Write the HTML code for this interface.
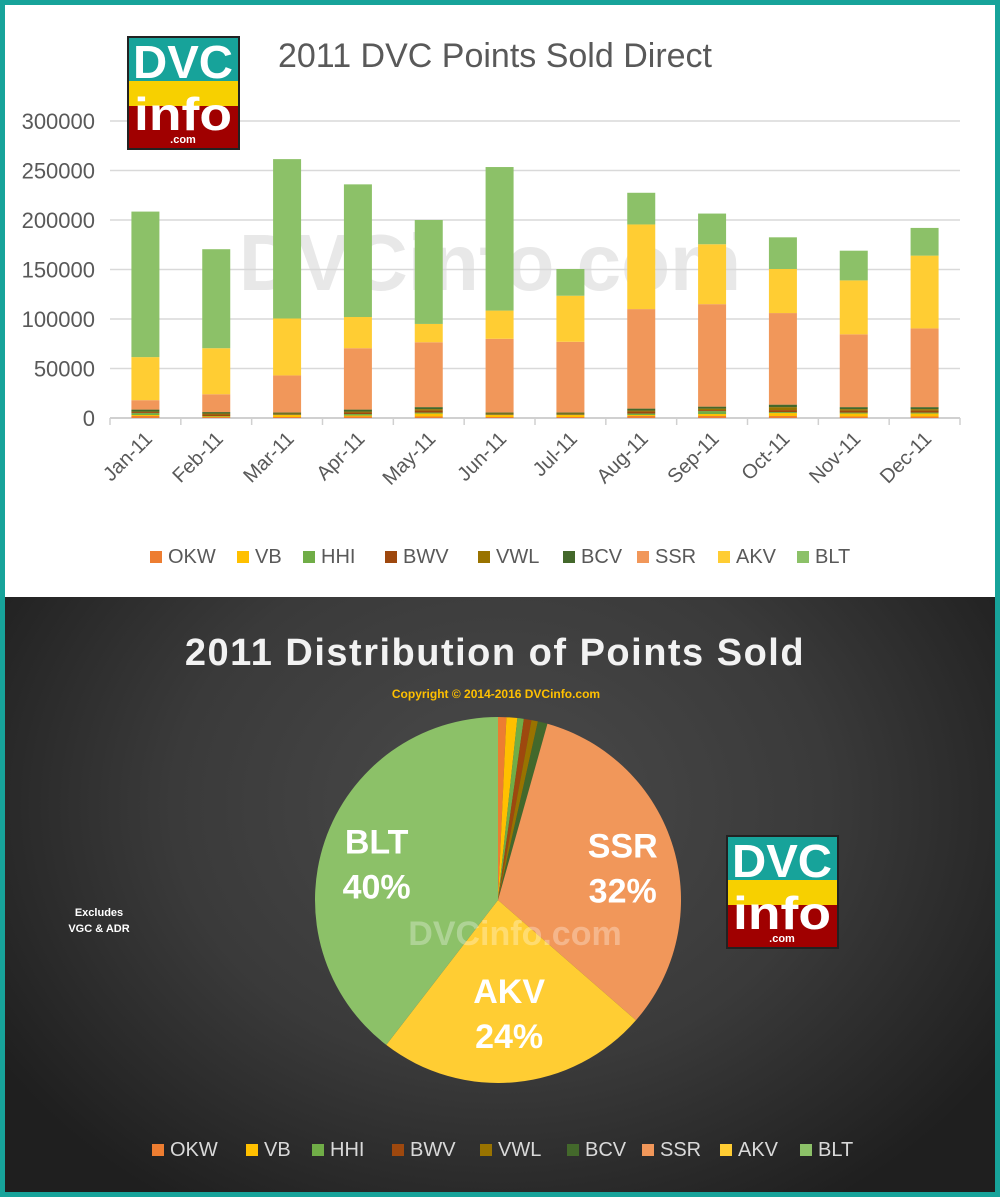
<!DOCTYPE html>
<html><head><meta charset="utf-8"><style>
html,body{margin:0;padding:0}
body{width:1000px;height:1197px;background:#17a39a;position:relative;overflow:hidden;font-family:"Liberation Sans",sans-serif}
#top{position:absolute;left:5px;top:5px;width:990px;height:592px;background:#fff}
#bot{position:absolute;left:5px;top:597px;width:990px;height:595px;background:radial-gradient(ellipse 60% 80% at 50% 35%,#4a4a4a 0%,#3a3a3a 55%,#1f1f1f 100%)}
svg text{font-family:"Liberation Sans",sans-serif}
</style></head><body>
<div id="top"></div>
<div id="bot"></div>
<svg id="chart" width="1000" height="1197" style="position:absolute;left:0;top:0">
<defs>
<g id="logo">
<rect x="0" y="0" width="113" height="114" fill="#222"/>
<rect x="2" y="2" width="109" height="43" fill="#17a39a"/>
<rect x="2" y="45" width="109" height="25" fill="#f7d000"/>
<rect x="2" y="70" width="109" height="42" fill="#a00000"/>
<text x="56" y="42" font-size="46" fill="#fff" text-anchor="middle" font-weight="bold" textLength="100" lengthAdjust="spacingAndGlyphs">DVC</text>
<text x="56" y="94" font-size="46" fill="#fff" text-anchor="middle" font-weight="bold" textLength="98" lengthAdjust="spacingAndGlyphs">info</text>
<text x="56" y="107" font-size="11" fill="#fff" text-anchor="middle" font-weight="bold">.com</text>
</g>
</defs>
<g id="bars"></g>
<g id="pie"></g>
</svg>
<script>
const months=["Jan-11","Feb-11","Mar-11","Apr-11","May-11","Jun-11","Jul-11","Aug-11","Sep-11","Oct-11","Nov-11","Dec-11"];
const seriesNames=["OKW","VB","HHI","BWV","VWL","BCV","SSR","AKV","BLT"];
const seriesColors=["#ED7D31","#FFC000","#70AD47","#9E480E","#997300","#43682B","#F1975A","#FFCD33","#8CC168"];
const okw=[2000,1000,1000,1500,1500,1000,1000,2000,2000,2000,1500,1500];
const vb=[1000,500,2000,1000,3000,2000,2000,1000,2000,3000,3000,3000];
const hhi=[2000,500,500,1500,1000,500,500,1500,3000,1000,1000,1000];
const bwv=[1000,1500,500,1500,2000,500,500,2000,1000,2000,2000,2000];
const vwl=[500,1000,500,1000,1500,500,500,1000,1500,3000,1500,1500];
const bcv=[2000,1500,1000,2000,2000,1000,1000,2000,2000,2500,2000,2000];
const ssr=[9500,18000,37500,62000,65500,74500,71500,100500,103500,92500,73500,79500];
const akv=[43500,46500,57500,31500,18500,28500,46500,85500,60500,44500,54500,73500];
const blt=[147000,100000,161000,134000,105000,145000,27000,32000,31000,32000,30000,28000];
const yTicks=[0,50000,100000,150000,200000,250000,300000];
const series=[okw,vb,hhi,bwv,vwl,bcv,ssr,akv,blt];
const NS="http://www.w3.org/2000/svg";
function mk(tag,attrs,parent,txt){const e=document.createElementNS(NS,tag);for(const k in attrs)e.setAttribute(k,attrs[k]);if(txt!==undefined)e.textContent=txt;parent.appendChild(e);return e;}
const X0=110,X1=960,Y0=418,Y1=121,YMAX=300000;
const y=v=>Y0-(v/YMAX)*(Y0-Y1);
const bw=(X1-X0)/months.length;
const xc=i=>X0+bw*(i+0.5);
const g=document.getElementById('bars');
let t=mk('text',{x:495,y:67,'font-size':34,fill:'#595959','text-anchor':'middle'},g,'2011 DVC Points  Sold  Direct');

t=mk('text',{x:490,y:290,'font-size':80,fill:'#e8e8e8','text-anchor':'middle','font-weight':'bold'},g,'DVCinfo.com');

yTicks.forEach(v=>{
  const l=mk('line',{x1:X0,x2:X1,y1:y(v),y2:y(v),stroke:v===0?'#d0d0d0':'#d9d9d9','stroke-width':v===0?2:1.5},g);
  
  const tt=mk('text',{x:95,y:y(v)+8,'font-size':22,fill:'#595959','text-anchor':'end'},g,String(v));
  
});
for(let i=0;i<=months.length;i++){
  const l=mk('line',{x1:X0+bw*i,x2:X0+bw*i,y1:Y0,y2:Y0+7,stroke:'#d0d0d0','stroke-width':1.5},g);
  
}
months.forEach((m,i)=>{
  let cum=0;
  series.forEach((s,k)=>{
    const v=s[i];
    const r=mk('rect',{x:xc(i)-14,y:y(cum+v),width:28,height:y(cum)-y(cum+v),fill:seriesColors[k]},g);
    
    
    cum+=v;
  });
  const tx=xc(i)+8,ty=Y0+22;
  const lab=mk('text',{x:tx,y:ty,'font-size':20,fill:'#595959','text-anchor':'end',transform:`rotate(-45 ${tx} ${ty})`},g,m);
  
});
function legend(parent,yy,col,pos){
  seriesNames.forEach((n,k)=>{
    const x=pos[k];
    const r=mk('rect',{x:x,y:yy-12,width:12,height:12,fill:seriesColors[k]},parent);
    
    const tt=mk('text',{x:x+18,y:yy,'font-size':20,fill:col},parent,n);
    
  });
}
legend(g,563,'#595959',[150,237,303,385,478,563,637,718,797]);
let lg=mk('use',{href:'#logo',x:127,y:36},g);


const p=document.getElementById('pie');
const totals=series.map(s=>s.reduce((a,b)=>a+b,0));
const grand=totals.reduce((a,b)=>a+b,0);
t=mk('text',{x:495,y:665,'font-size':38,fill:'#f2f2f2','text-anchor':'middle','font-weight':'bold','letter-spacing':'1.5'},p,'2011 Distribution of Points Sold');

t=mk('text',{x:496,y:698,'font-size':12,fill:'#ffc000','text-anchor':'middle','font-weight':'bold'},p,'Copyright © 2014-2016 DVCinfo.com');

t=mk('text',{x:99,y:916,'font-size':11,fill:'#fff','text-anchor':'middle','font-weight':'bold'},p,'Excludes');

t=mk('text',{x:99,y:932,'font-size':11,fill:'#fff','text-anchor':'middle','font-weight':'bold'},p,'VGC & ADR');

const cx=498,cy=900,R=183;
let a0=-Math.PI/2;
const labels={6:'SSR',7:'AKV',8:'BLT'};
const labOff={6:[16,0],7:[0,0],8:[-14,0]};
totals.forEach((v,k)=>{
  const a1=a0+v/grand*2*Math.PI;
  const large=(a1-a0)>Math.PI?1:0;
  const d=`M${cx},${cy} L${cx+R*Math.cos(a0)},${cy+R*Math.sin(a0)} A${R},${R} 0 ${large} 1 ${cx+R*Math.cos(a1)},${cy+R*Math.sin(a1)} Z`;
  const s=mk('path',{d:d,fill:seriesColors[k]},p);
  
  
  if(labels[k]){
    const am=(a0+a1)/2,lr=R*0.62;
    const lx=cx+lr*Math.cos(am)+labOff[k][0],ly=cy+lr*Math.sin(am);
    const l1=mk('text',{x:lx,y:ly-10,'font-size':34,fill:'#fff','text-anchor':'middle','font-weight':'bold'},p,labels[k]);
    
    const l2=mk('text',{x:lx,y:ly+35,'font-size':34,fill:'#fff','text-anchor':'middle','font-weight':'bold'},p,Math.round(v/grand*100)+'%');
    
  }
  a0=a1;
});
t=mk('text',{x:515,y:945,'font-size':34,fill:'rgba(255,255,255,0.3)','text-anchor':'middle','font-weight':'bold'},p,'DVCinfo.com');

legend(p,1156,'#d9d9d9',[152,246,312,392,480,567,642,720,800]);
lg=mk('use',{href:'#logo',x:726,y:835},p);

</script>
</body></html>
